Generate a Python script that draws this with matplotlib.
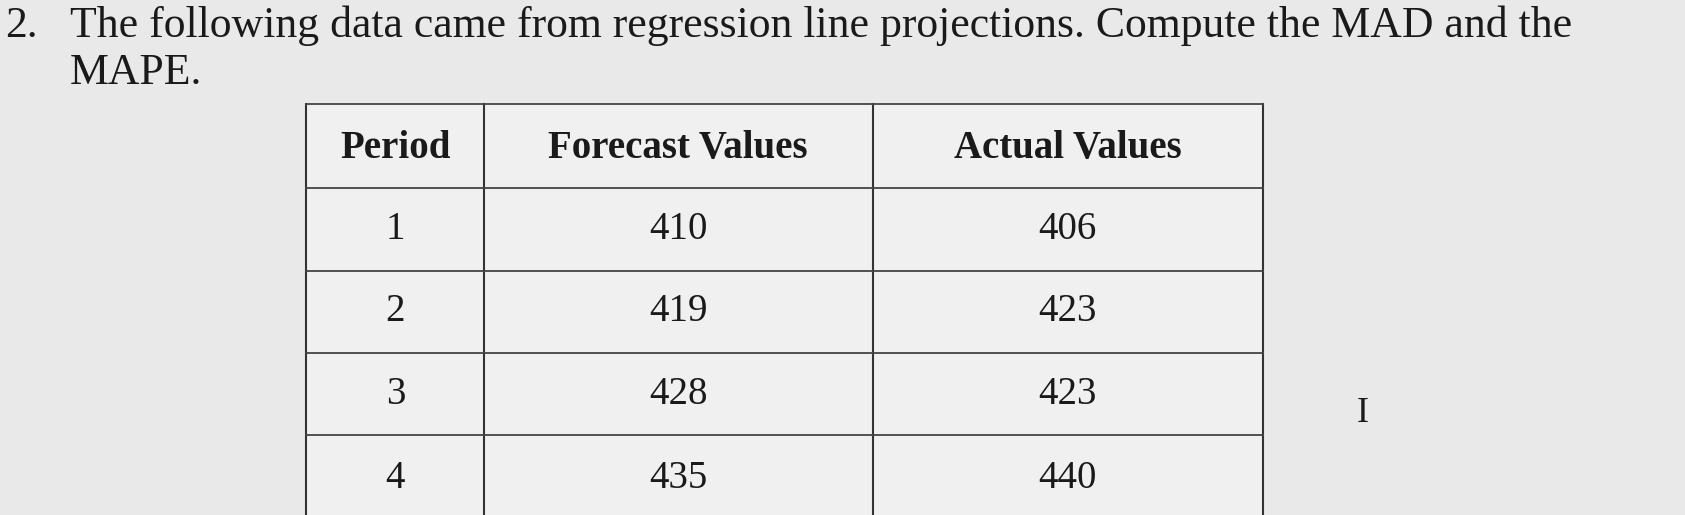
import matplotlib.pyplot as plt

plt.rcParams['font.family'] = ['Liberation Serif', 'DejaVu Serif']

headers = ['Period', 'Forecast Values', 'Actual Values']
periods = [1, 2, 3, 4]
forecast = [410, 419, 428, 435]
actual = [406, 423, 423, 440]

W, H = 1568, 479
fig = plt.figure(figsize=(16.85, 5.15), dpi=100)
fig.patch.set_facecolor('#e9e9e9')
ax = fig.add_axes([0, 0, 1, 1])
ax.set_xlim(0, W)
ax.set_ylim(H, 0)
ax.axis('off')

ink = '#1a1a1a'
ax.text(5, 24, '2.', fontsize=31.5, color=ink, va='center')
ax.text(65, 24, 'The following data came from regression line projections. Compute the MAD and the',
        fontsize=31.5, color=ink, va='center')
ax.text(65, 68, 'MAPE.', fontsize=31.5, color=ink, va='center')

# table grid
xs = [285, 450, 812, 1175]
ys = [97, 175, 252, 328, 405]
ax.fill_between([xs[0], xs[-1]], ys[0], H, color='#f0f0f0', zorder=0)
for x in xs:
    ax.plot([x, x], [ys[0], H], color='#333333', lw=1.5)
for y in ys:
    ax.plot([xs[0], xs[-1]], [y, y], color='#444444', lw=1.3)

centers = [(xs[i] + xs[i + 1]) / 2 for i in range(3)]
centers[0] = 368
for c, h in zip(centers, headers):
    ax.text(c, 138, h, fontsize=28, fontweight='bold', color=ink, ha='center', va='center')

row_y = [213, 290, 367, 445]
for y, p, f, a in zip(row_y, periods, forecast, actual):
    ax.text(centers[0], y, str(p), fontsize=28, color=ink, ha='center', va='center')
    ax.text(centers[1], y, str(f), fontsize=28, color=ink, ha='center', va='center')
    ax.text(centers[2], y, str(a), fontsize=28, color=ink, ha='center', va='center')

ax.text(1268, 385, 'I', fontsize=26, color=ink, ha='center', va='center')

fig.savefig('out.png', dpi=100, facecolor=fig.get_facecolor())
